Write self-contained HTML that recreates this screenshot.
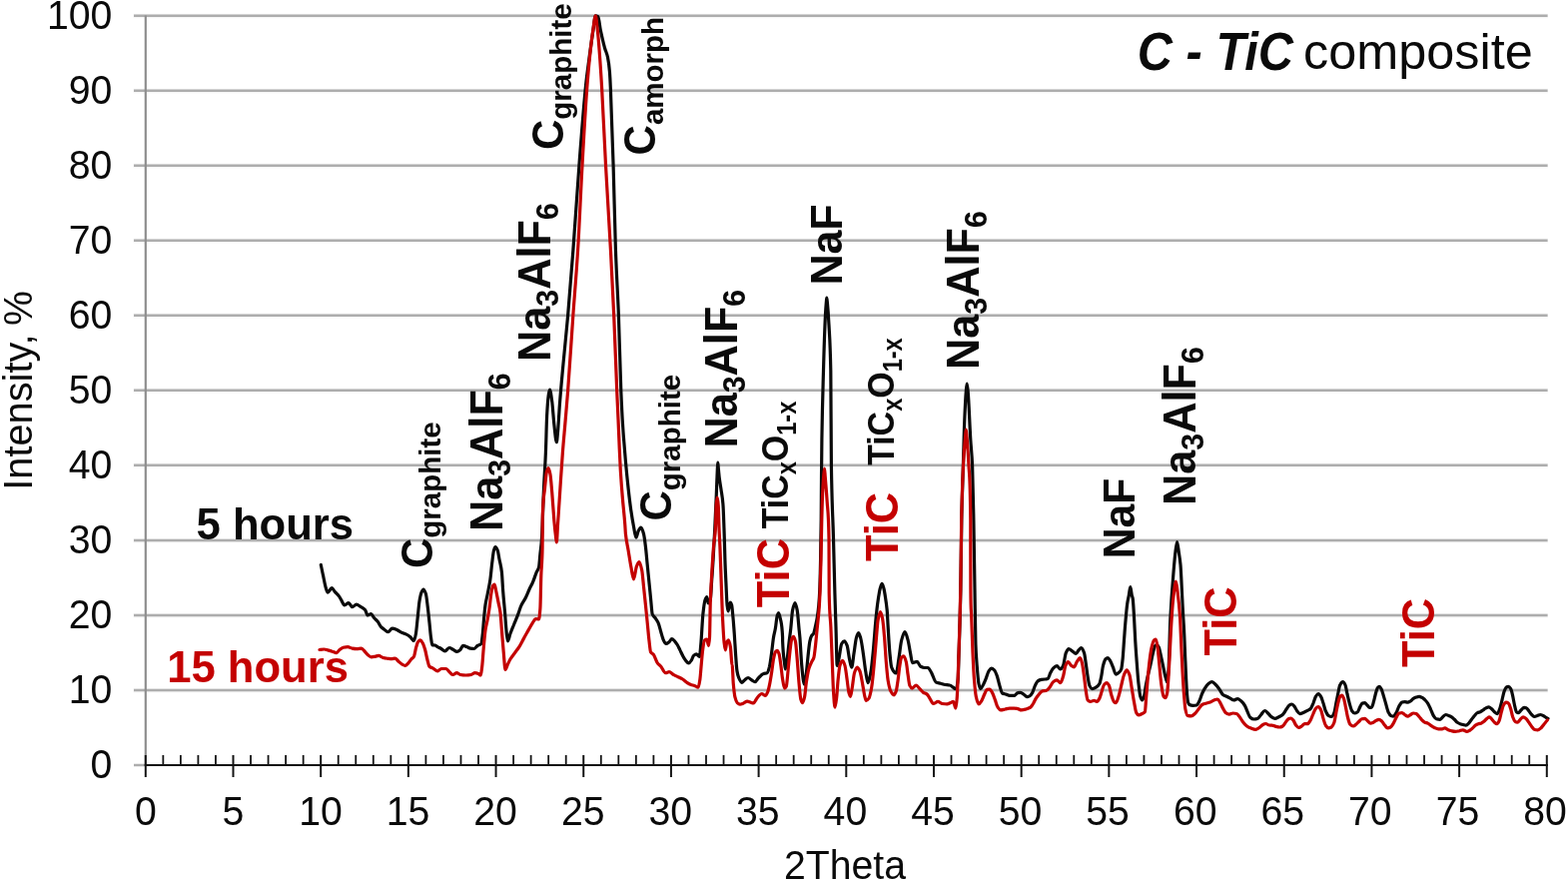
<!DOCTYPE html>
<html lang="en"><head><meta charset="utf-8"><title>XRD pattern of C - TiC composite</title>
<style>html,body{margin:0;padding:0;background:#fff;overflow:hidden}svg{display:block}text{font-family:"Liberation Sans",Arial,Helvetica,sans-serif;fill:#0a0a0a}.b{font-weight:bold}.r,.r text{fill:#c40000}.i{font-style:italic}</style></head><body>
<svg width="1570" height="880" viewBox="0 0 1570 880">
<rect width="1570" height="880" fill="#fff"/>
<g stroke="#000" stroke-opacity="0.035" stroke-width="4.6" fill="none">
<line x1="133.5" y1="691.26" x2="1550.10" y2="691.26"/>
<line x1="133.5" y1="616.23" x2="1550.10" y2="616.23"/>
<line x1="133.5" y1="541.19" x2="1550.10" y2="541.19"/>
<line x1="133.5" y1="466.16" x2="1550.10" y2="466.16"/>
<line x1="133.5" y1="391.12" x2="1550.10" y2="391.12"/>
<line x1="133.5" y1="316.09" x2="1550.10" y2="316.09"/>
<line x1="133.5" y1="241.06" x2="1550.10" y2="241.06"/>
<line x1="133.5" y1="166.02" x2="1550.10" y2="166.02"/>
<line x1="133.5" y1="90.98" x2="1550.10" y2="90.98"/>
<line x1="133.5" y1="15.95" x2="1550.10" y2="15.95"/>
</g>
<g stroke="#adadad" stroke-width="2.5" fill="none">
<line x1="134" y1="690.97" x2="1549.60" y2="690.97"/>
<line x1="134" y1="615.93" x2="1549.60" y2="615.93"/>
<line x1="134" y1="540.89" x2="1549.60" y2="540.89"/>
<line x1="134" y1="465.86" x2="1549.60" y2="465.86"/>
<line x1="134" y1="390.82" x2="1549.60" y2="390.82"/>
<line x1="134" y1="315.79" x2="1549.60" y2="315.79"/>
<line x1="134" y1="240.75" x2="1549.60" y2="240.75"/>
<line x1="134" y1="165.72" x2="1549.60" y2="165.72"/>
<line x1="134" y1="90.68" x2="1549.60" y2="90.68"/>
<line x1="134" y1="15.65" x2="1549.60" y2="15.65"/>
<line x1="134" y1="766.00" x2="145.80" y2="766.00"/>
<line x1="145.80" y1="15.45" x2="145.80" y2="766.00" stroke="#8e8e8e" stroke-width="2.2"/>
</g>
<g stroke="#141414" stroke-width="2" fill="none">
<line x1="144.70" y1="766.00" x2="1549.90" y2="766.00"/>
<line x1="145.80" y1="756.00" x2="145.80" y2="778.00"/>
<line x1="163.34" y1="756.00" x2="163.34" y2="766.00" stroke-width="1.8"/>
<line x1="180.88" y1="756.00" x2="180.88" y2="766.00" stroke-width="1.8"/>
<line x1="198.41" y1="756.00" x2="198.41" y2="766.00" stroke-width="1.8"/>
<line x1="215.95" y1="756.00" x2="215.95" y2="766.00" stroke-width="1.8"/>
<line x1="233.49" y1="756.00" x2="233.49" y2="778.00"/>
<line x1="251.03" y1="756.00" x2="251.03" y2="766.00" stroke-width="1.8"/>
<line x1="268.56" y1="756.00" x2="268.56" y2="766.00" stroke-width="1.8"/>
<line x1="286.10" y1="756.00" x2="286.10" y2="766.00" stroke-width="1.8"/>
<line x1="303.64" y1="756.00" x2="303.64" y2="766.00" stroke-width="1.8"/>
<line x1="321.18" y1="756.00" x2="321.18" y2="778.00"/>
<line x1="338.71" y1="756.00" x2="338.71" y2="766.00" stroke-width="1.8"/>
<line x1="356.25" y1="756.00" x2="356.25" y2="766.00" stroke-width="1.8"/>
<line x1="373.79" y1="756.00" x2="373.79" y2="766.00" stroke-width="1.8"/>
<line x1="391.33" y1="756.00" x2="391.33" y2="766.00" stroke-width="1.8"/>
<line x1="408.86" y1="756.00" x2="408.86" y2="778.00"/>
<line x1="426.40" y1="756.00" x2="426.40" y2="766.00" stroke-width="1.8"/>
<line x1="443.94" y1="756.00" x2="443.94" y2="766.00" stroke-width="1.8"/>
<line x1="461.48" y1="756.00" x2="461.48" y2="766.00" stroke-width="1.8"/>
<line x1="479.01" y1="756.00" x2="479.01" y2="766.00" stroke-width="1.8"/>
<line x1="496.55" y1="756.00" x2="496.55" y2="778.00"/>
<line x1="514.09" y1="756.00" x2="514.09" y2="766.00" stroke-width="1.8"/>
<line x1="531.62" y1="756.00" x2="531.62" y2="766.00" stroke-width="1.8"/>
<line x1="549.16" y1="756.00" x2="549.16" y2="766.00" stroke-width="1.8"/>
<line x1="566.70" y1="756.00" x2="566.70" y2="766.00" stroke-width="1.8"/>
<line x1="584.24" y1="756.00" x2="584.24" y2="778.00"/>
<line x1="601.78" y1="756.00" x2="601.78" y2="766.00" stroke-width="1.8"/>
<line x1="619.31" y1="756.00" x2="619.31" y2="766.00" stroke-width="1.8"/>
<line x1="636.85" y1="756.00" x2="636.85" y2="766.00" stroke-width="1.8"/>
<line x1="654.39" y1="756.00" x2="654.39" y2="766.00" stroke-width="1.8"/>
<line x1="671.92" y1="756.00" x2="671.92" y2="778.00"/>
<line x1="689.46" y1="756.00" x2="689.46" y2="766.00" stroke-width="1.8"/>
<line x1="707.00" y1="756.00" x2="707.00" y2="766.00" stroke-width="1.8"/>
<line x1="724.54" y1="756.00" x2="724.54" y2="766.00" stroke-width="1.8"/>
<line x1="742.08" y1="756.00" x2="742.08" y2="766.00" stroke-width="1.8"/>
<line x1="759.61" y1="756.00" x2="759.61" y2="778.00"/>
<line x1="777.15" y1="756.00" x2="777.15" y2="766.00" stroke-width="1.8"/>
<line x1="794.69" y1="756.00" x2="794.69" y2="766.00" stroke-width="1.8"/>
<line x1="812.22" y1="756.00" x2="812.22" y2="766.00" stroke-width="1.8"/>
<line x1="829.76" y1="756.00" x2="829.76" y2="766.00" stroke-width="1.8"/>
<line x1="847.30" y1="756.00" x2="847.30" y2="778.00"/>
<line x1="864.84" y1="756.00" x2="864.84" y2="766.00" stroke-width="1.8"/>
<line x1="882.38" y1="756.00" x2="882.38" y2="766.00" stroke-width="1.8"/>
<line x1="899.91" y1="756.00" x2="899.91" y2="766.00" stroke-width="1.8"/>
<line x1="917.45" y1="756.00" x2="917.45" y2="766.00" stroke-width="1.8"/>
<line x1="934.99" y1="756.00" x2="934.99" y2="778.00"/>
<line x1="952.53" y1="756.00" x2="952.53" y2="766.00" stroke-width="1.8"/>
<line x1="970.06" y1="756.00" x2="970.06" y2="766.00" stroke-width="1.8"/>
<line x1="987.60" y1="756.00" x2="987.60" y2="766.00" stroke-width="1.8"/>
<line x1="1005.14" y1="756.00" x2="1005.14" y2="766.00" stroke-width="1.8"/>
<line x1="1022.67" y1="756.00" x2="1022.67" y2="778.00"/>
<line x1="1040.21" y1="756.00" x2="1040.21" y2="766.00" stroke-width="1.8"/>
<line x1="1057.75" y1="756.00" x2="1057.75" y2="766.00" stroke-width="1.8"/>
<line x1="1075.29" y1="756.00" x2="1075.29" y2="766.00" stroke-width="1.8"/>
<line x1="1092.83" y1="756.00" x2="1092.83" y2="766.00" stroke-width="1.8"/>
<line x1="1110.36" y1="756.00" x2="1110.36" y2="778.00"/>
<line x1="1127.90" y1="756.00" x2="1127.90" y2="766.00" stroke-width="1.8"/>
<line x1="1145.44" y1="756.00" x2="1145.44" y2="766.00" stroke-width="1.8"/>
<line x1="1162.97" y1="756.00" x2="1162.97" y2="766.00" stroke-width="1.8"/>
<line x1="1180.51" y1="756.00" x2="1180.51" y2="766.00" stroke-width="1.8"/>
<line x1="1198.05" y1="756.00" x2="1198.05" y2="778.00"/>
<line x1="1215.59" y1="756.00" x2="1215.59" y2="766.00" stroke-width="1.8"/>
<line x1="1233.12" y1="756.00" x2="1233.12" y2="766.00" stroke-width="1.8"/>
<line x1="1250.66" y1="756.00" x2="1250.66" y2="766.00" stroke-width="1.8"/>
<line x1="1268.20" y1="756.00" x2="1268.20" y2="766.00" stroke-width="1.8"/>
<line x1="1285.74" y1="756.00" x2="1285.74" y2="778.00"/>
<line x1="1303.27" y1="756.00" x2="1303.27" y2="766.00" stroke-width="1.8"/>
<line x1="1320.81" y1="756.00" x2="1320.81" y2="766.00" stroke-width="1.8"/>
<line x1="1338.35" y1="756.00" x2="1338.35" y2="766.00" stroke-width="1.8"/>
<line x1="1355.89" y1="756.00" x2="1355.89" y2="766.00" stroke-width="1.8"/>
<line x1="1373.42" y1="756.00" x2="1373.42" y2="778.00"/>
<line x1="1390.96" y1="756.00" x2="1390.96" y2="766.00" stroke-width="1.8"/>
<line x1="1408.50" y1="756.00" x2="1408.50" y2="766.00" stroke-width="1.8"/>
<line x1="1426.04" y1="756.00" x2="1426.04" y2="766.00" stroke-width="1.8"/>
<line x1="1443.58" y1="756.00" x2="1443.58" y2="766.00" stroke-width="1.8"/>
<line x1="1461.11" y1="756.00" x2="1461.11" y2="778.00"/>
<line x1="1478.65" y1="756.00" x2="1478.65" y2="766.00" stroke-width="1.8"/>
<line x1="1496.19" y1="756.00" x2="1496.19" y2="766.00" stroke-width="1.8"/>
<line x1="1513.72" y1="756.00" x2="1513.72" y2="766.00" stroke-width="1.8"/>
<line x1="1531.26" y1="756.00" x2="1531.26" y2="766.00" stroke-width="1.8"/>
<line x1="1548.80" y1="756.00" x2="1548.80" y2="778.00"/>
</g>
<g font-size="39.2" text-anchor="end">
<text transform="translate(112.3,779.4) scale(1,1.04)">0</text>
<text transform="translate(112.3,704.37) scale(1,1.04)">10</text>
<text transform="translate(112.3,629.33) scale(1,1.04)">20</text>
<text transform="translate(112.3,554.29) scale(1,1.04)">30</text>
<text transform="translate(112.3,479.26) scale(1,1.04)">40</text>
<text transform="translate(112.3,404.22) scale(1,1.04)">50</text>
<text transform="translate(112.3,329.19) scale(1,1.04)">60</text>
<text transform="translate(112.3,254.16) scale(1,1.04)">70</text>
<text transform="translate(112.3,179.12) scale(1,1.04)">80</text>
<text transform="translate(112.3,104.08) scale(1,1.04)">90</text>
<text transform="translate(112.3,29.05) scale(1,1.04)">100</text>
</g>
<g font-size="39.2" text-anchor="middle">
<text transform="translate(145.8,825.5) scale(1,1.04)">0</text>
<text transform="translate(233.38,825.5) scale(1,1.04)">5</text>
<text transform="translate(320.95,825.5) scale(1,1.04)">10</text>
<text transform="translate(408.53,825.5) scale(1,1.04)">15</text>
<text transform="translate(496.1,825.5) scale(1,1.04)">20</text>
<text transform="translate(583.67,825.5) scale(1,1.04)">25</text>
<text transform="translate(671.25,825.5) scale(1,1.04)">30</text>
<text transform="translate(758.82,825.5) scale(1,1.04)">35</text>
<text transform="translate(846.4,825.5) scale(1,1.04)">40</text>
<text transform="translate(933.97,825.5) scale(1,1.04)">45</text>
<text transform="translate(1021.55,825.5) scale(1,1.04)">50</text>
<text transform="translate(1109.12,825.5) scale(1,1.04)">55</text>
<text transform="translate(1196.7,825.5) scale(1,1.04)">60</text>
<text transform="translate(1284.27,825.5) scale(1,1.04)">65</text>
<text transform="translate(1371.85,825.5) scale(1,1.04)">70</text>
<text transform="translate(1459.42,825.5) scale(1,1.04)">75</text>
<text transform="translate(1547.0,825.5) scale(1,1.04)">80</text>
</g>
<text transform="translate(846,880.2) scale(1,1.04)" font-size="39.2" text-anchor="middle">2Theta</text>
<g font-size="39.8" transform="translate(31.6,490.8) rotate(-90) scale(1,1.02)"><text>Intensity,</text><text x="164.7" font-size="39.2">%</text></g>
<text transform="translate(1138.8,69.8) scale(1,1.09)" font-size="48.8" class="b i">C - TiC</text>
<text transform="translate(1305,69.3)" font-size="50.4">composite</text>
<text transform="translate(196.6,539.8)" font-size="43.6" class="b">5 hours</text>
<text transform="translate(167.2,682.6)" font-size="43.6" class="b r">15 hours</text>
<g class="b" transform="translate(432.8,569) rotate(-90)">
<text font-size="42" transform="scale(1,1.05)">C</text>
<text font-size="29.5" transform="translate(30.33,8.3) scale(1,1.02)">graphite</text>
</g>
<g class="b" transform="translate(502.8,532.1) rotate(-90)">
<text font-size="43.3" transform="scale(1,1.05)">Na</text>
<text font-size="30.3" transform="translate(55.35,7.8) scale(1,1.02)">3</text>
<text font-size="43.3" transform="translate(72.20,0) scale(1,1.05)">AlF</text>
<text font-size="30.3" transform="translate(141.95,7.8) scale(1,1.02)">6</text>
</g>
<g class="b" transform="translate(551.2,362) rotate(-90)">
<text font-size="43.3" transform="scale(1,1.05)">Na</text>
<text font-size="30.3" transform="translate(55.35,7.8) scale(1,1.02)">3</text>
<text font-size="43.3" transform="translate(72.20,0) scale(1,1.05)">AlF</text>
<text font-size="30.3" transform="translate(141.95,7.8) scale(1,1.02)">6</text>
</g>
<g class="b" transform="translate(564,150) rotate(-90)">
<text font-size="42" transform="scale(1,1.05)">C</text>
<text font-size="29.5" transform="translate(30.33,8.3) scale(1,1.02)">graphite</text>
</g>
<g class="b" transform="translate(655.5,155.4) rotate(-90)">
<text font-size="42" transform="scale(1,1.05)">C</text>
<text font-size="29.5" transform="translate(30.33,8.3) scale(1,1.02)">amorph</text>
</g>
<g class="b" transform="translate(672.3,521.5) rotate(-90)">
<text font-size="42" transform="scale(1,1.05)">C</text>
<text font-size="29.5" transform="translate(30.33,8.3) scale(1,1.02)">graphite</text>
</g>
<g class="b" transform="translate(737.7,448.6) rotate(-90)">
<text font-size="43.3" transform="scale(1,1.05)">Na</text>
<text font-size="30.3" transform="translate(55.35,7.8) scale(1,1.02)">3</text>
<text font-size="43.3" transform="translate(72.20,0) scale(1,1.05)">AlF</text>
<text font-size="30.3" transform="translate(141.95,7.8) scale(1,1.02)">6</text>
</g>
<g class="b r" transform="translate(790,608.2) rotate(-90)">
<text font-size="43.5" transform="scale(1,1.05)">TiC</text>
</g>
<g class="b" transform="translate(788.9,529.4) rotate(-90)">
<text font-size="34" transform="scale(1,1.107)">TiC</text>
<text font-size="23.5" transform="translate(54.15,7.6) scale(1,1.15)">x</text>
<text font-size="34" transform="translate(67.22,0) scale(1,1.107)">O</text>
<text font-size="23.5" transform="translate(93.67,7.6) scale(1,1.15)">1-x</text>
</g>
<g class="b" transform="translate(842.5,285.6) rotate(-90)">
<text font-size="43.0" transform="scale(1,1.03)">NaF</text>
</g>
<g class="b r" transform="translate(898.6,562) rotate(-90)">
<text font-size="43.5" transform="scale(1,1.05)">TiC</text>
</g>
<g class="b" transform="translate(895,466) rotate(-90)">
<text font-size="34" transform="scale(1,1.107)">TiC</text>
<text font-size="23.5" transform="translate(54.15,7.6) scale(1,1.15)">x</text>
<text font-size="34" transform="translate(67.22,0) scale(1,1.107)">O</text>
<text font-size="23.5" transform="translate(93.67,7.6) scale(1,1.15)">1-x</text>
</g>
<g class="b" transform="translate(980,370) rotate(-90)">
<text font-size="43.3" transform="scale(1,1.05)">Na</text>
<text font-size="30.3" transform="translate(55.35,7.8) scale(1,1.02)">3</text>
<text font-size="43.3" transform="translate(72.20,0) scale(1,1.05)">AlF</text>
<text font-size="30.3" transform="translate(141.95,7.8) scale(1,1.02)">6</text>
</g>
<g class="b" transform="translate(1135.8,559.2) rotate(-90)">
<text font-size="42.7" transform="scale(1,1.03)">NaF</text>
</g>
<g class="b" transform="translate(1197,506) rotate(-90)">
<text font-size="43.3" transform="scale(1,1.05)">Na</text>
<text font-size="30.3" transform="translate(55.35,7.8) scale(1,1.02)">3</text>
<text font-size="43.3" transform="translate(72.20,0) scale(1,1.05)">AlF</text>
<text font-size="30.3" transform="translate(141.95,7.8) scale(1,1.02)">6</text>
</g>
<g class="b r" transform="translate(1237.5,656.6) rotate(-90)">
<text font-size="43.5" transform="scale(1,1.05)">TiC</text>
</g>
<g class="b r" transform="translate(1436.3,668.1) rotate(-90)">
<text font-size="43.5" transform="scale(1,1.05)">TiC</text>
</g>
<path d="M321.3,565.5C322.1,569.1 322.8,572.8 323.6,576.4C324.5,580.7 325.5,586.4 326.4,589.1C327.0,590.8 327.6,593.1 328.2,593.1C329.5,593.1 330.9,588.7 332.2,588.7C333.3,588.7 334.4,591.5 335.5,592.7C336.7,594.0 337.9,594.9 339.1,596.4C340.0,597.6 340.9,599.4 341.8,600.9C342.8,602.6 343.9,605.8 344.9,605.8C346.3,605.8 347.7,603.6 349.1,603.6C350.3,603.6 351.5,607.6 352.7,607.6C354.1,607.6 355.5,605.1 356.9,605.1C358.2,605.1 359.6,606.5 360.9,607.3C362.4,608.2 364.0,608.8 365.5,610.5C366.4,611.5 367.3,616.0 368.2,616.0C369.3,616.0 370.4,614.5 371.5,614.5C372.5,614.5 373.5,617.4 374.5,618.5C375.7,619.9 377.0,620.7 378.2,622.2C379.2,623.5 380.3,626.1 381.3,627.3C382.4,628.5 383.4,629.2 384.5,630.0C385.8,631.0 387.2,632.7 388.5,632.7C389.9,632.7 391.3,629.1 392.7,629.1C394.2,629.1 395.8,629.8 397.3,630.4C398.8,631.0 400.3,632.4 401.8,633.1C403.3,633.8 404.9,634.2 406.4,634.9C407.9,635.6 409.4,636.6 410.9,637.8C412.1,638.8 413.3,641.5 414.5,641.5C415.1,641.5 415.8,637.8 416.4,634.5C417.0,631.3 417.6,623.6 418.2,618.2C418.8,612.8 419.4,605.4 420.0,601.8C420.6,598.2 421.2,595.1 421.8,593.6C422.5,591.8 423.3,590.0 424.0,590.0C424.8,590.0 425.6,592.1 426.4,594.5C427.0,596.3 427.6,602.5 428.2,607.3C428.8,612.1 429.4,618.0 430.0,623.6C430.5,628.3 431.0,634.7 431.5,638.2C432.0,641.4 432.4,645.7 432.9,645.8C433.8,645.9 434.6,645.9 435.5,646.0C436.4,646.1 437.3,647.1 438.2,647.6C439.4,648.3 440.6,648.8 441.8,649.5C443.0,650.2 444.3,651.8 445.5,651.8C447.0,651.8 448.5,648.5 450.0,648.5C451.2,648.5 452.4,649.6 453.6,650.2C454.9,650.9 456.3,652.4 457.6,652.4C458.7,652.4 459.8,651.4 460.9,650.5C461.8,649.7 462.7,646.4 463.6,646.4C464.8,646.4 466.1,647.1 467.3,647.6C468.5,648.0 469.7,648.9 470.9,649.1C472.1,649.3 473.3,649.5 474.5,649.5C475.7,649.5 477.0,647.2 478.2,646.4C479.4,645.6 480.6,645.8 481.8,644.5C482.3,643.9 482.8,638.8 483.3,634.5C483.7,631.0 484.1,624.3 484.5,620.0C485.0,614.6 485.5,608.9 486.0,605.5C486.7,600.6 487.5,598.3 488.2,594.5C489.1,589.8 490.0,586.2 490.9,580.0C491.5,575.9 492.1,568.4 492.7,563.6C493.3,558.8 493.9,552.9 494.5,550.9C495.0,549.2 495.5,547.6 496.0,547.6C496.7,547.6 497.5,549.2 498.2,550.9C498.8,552.3 499.4,556.9 500.0,560.0C500.8,564.1 501.6,566.1 502.4,572.7C502.8,576.0 503.2,585.6 503.6,590.9C504.2,599.3 504.9,605.2 505.5,612.7C506.1,619.8 506.7,629.7 507.3,634.5C507.7,637.7 508.1,641.8 508.5,641.8C509.3,641.8 510.1,636.7 510.9,634.5C512.1,631.2 513.3,628.5 514.5,625.5C515.7,622.4 517.0,619.6 518.2,616.4C519.4,613.3 520.6,609.0 521.8,606.4C523.3,603.0 524.9,601.3 526.4,598.2C527.6,595.8 528.8,592.6 530.0,590.0C531.2,587.4 532.4,585.5 533.6,582.7C534.8,579.8 536.1,575.5 537.3,572.7C538.0,571.0 538.8,570.8 539.5,568.2C540.0,566.5 540.4,559.0 540.9,554.5C541.4,549.6 541.9,546.7 542.4,540.0C543.1,530.6 543.8,504.1 544.5,489.1C545.1,475.6 545.8,467.8 546.4,452.7C546.8,443.2 547.2,423.9 547.6,416.4C548.1,407.0 548.6,399.8 549.1,396.4C549.6,393.2 550.0,390.0 550.5,390.0C551.2,390.0 552.0,396.5 552.7,401.8C553.4,407.1 554.2,419.2 554.9,425.5C555.7,432.4 556.5,442.7 557.3,442.7C557.7,442.7 558.1,436.9 558.5,432.7C558.8,429.5 559.1,424.3 559.4,420.0C559.8,414.7 560.1,408.5 560.5,403.7C561.7,387.9 562.9,375.9 564.1,362.8C565.6,346.5 567.1,333.0 568.6,316.0C570.4,296.0 572.1,273.3 573.9,250.0C575.9,223.6 577.9,191.5 579.9,165.5C582.1,136.5 584.4,105.9 586.6,85.0C587.7,74.4 588.9,66.5 590.0,58.0C591.3,48.5 592.5,39.2 593.8,31.0C594.6,25.6 595.5,15.9 596.3,15.9C597.1,15.9 598.0,16.2 598.8,16.6C599.7,17.1 600.5,26.5 601.4,30.7C602.8,37.2 604.1,43.2 605.5,48.0C606.5,51.5 607.5,52.8 608.5,57.3C609.1,60.2 609.8,64.5 610.4,71.6C610.7,75.3 611.1,82.8 611.4,90.0C612.3,109.4 613.2,136.8 614.1,165.5C614.9,189.9 615.6,228.7 616.4,250.0C617.4,277.8 618.4,290.0 619.4,316.0C620.2,336.8 621.0,372.0 621.8,391.4C622.3,402.7 622.7,412.2 623.2,420.0C623.7,427.8 624.1,433.9 624.6,440.0C625.2,447.9 625.8,455.2 626.4,461.8C627.3,471.8 628.2,480.9 629.1,489.0C630.0,497.1 630.9,504.8 631.8,511.0C632.7,517.2 633.6,522.6 634.5,527.3C635.3,531.4 636.1,538.2 636.9,538.2C637.6,538.2 638.4,533.2 639.1,531.8C640.0,530.1 640.9,528.2 641.8,528.2C642.7,528.2 643.6,531.3 644.5,534.5C645.1,536.8 645.8,542.2 646.4,547.3C647.0,552.2 647.6,559.5 648.2,565.5C648.8,571.5 649.4,577.6 650.0,583.6C650.6,589.6 651.2,595.8 651.8,601.8C652.2,606.1 652.7,613.3 653.1,614.5C654.2,617.5 655.3,617.4 656.4,619.1C657.3,620.5 658.2,621.6 659.1,623.6C660.0,625.6 660.9,629.7 661.8,632.7C662.5,635.2 663.3,638.4 664.0,640.0C665.0,642.1 665.9,644.5 666.9,644.5C667.9,644.5 669.0,643.5 670.0,642.7C670.9,642.0 671.8,639.6 672.7,639.6C673.6,639.6 674.6,640.9 675.5,641.8C676.4,642.7 677.3,644.0 678.2,645.5C679.1,647.0 680.0,649.1 680.9,650.9C681.8,652.7 682.7,654.8 683.6,656.4C684.5,658.1 685.5,659.8 686.4,660.9C687.5,662.2 688.5,664.0 689.6,664.0C690.5,664.0 691.5,662.3 692.4,660.9C693.1,659.9 693.8,657.0 694.5,656.4C695.4,655.6 696.4,654.9 697.3,654.9C698.3,654.9 699.4,657.3 700.4,657.3C700.9,657.3 701.3,650.0 701.8,645.0C702.5,637.5 703.2,621.1 703.9,614.6C704.6,608.4 705.2,603.0 705.9,601.0C706.5,599.2 707.1,597.5 707.7,597.5C708.2,597.5 708.7,604.0 709.2,604.0C709.9,604.0 710.6,602.5 711.3,600.0C711.8,598.4 712.2,587.2 712.7,580.5C713.2,573.8 713.6,567.7 714.1,560.0C714.6,551.3 715.2,540.8 715.7,530.0C716.2,519.2 716.8,507.5 717.3,495.0C717.6,487.2 718.0,475.8 718.3,470.0C718.5,467.1 718.6,463.0 718.8,463.0C719.0,463.0 719.2,467.8 719.4,470.0C719.7,472.9 719.9,475.8 720.2,478.0C720.8,482.9 721.4,485.7 722.0,490.0C722.6,494.5 723.3,497.0 723.9,504.6C724.4,510.2 724.8,524.9 725.3,538.7C725.5,544.6 725.7,554.3 725.9,560.0C726.3,571.4 726.7,578.9 727.1,587.3C727.4,593.6 727.7,602.1 728.0,605.0C728.4,608.5 728.7,611.8 729.1,611.8C729.8,611.8 730.5,603.0 731.2,603.0C731.6,603.0 732.1,603.9 732.5,605.0C733.0,606.2 733.4,612.5 733.9,617.3C734.4,622.1 734.8,628.4 735.3,635.0C735.7,641.1 736.2,649.7 736.6,655.5C737.1,661.8 737.5,669.1 738.0,671.9C738.5,675.1 739.1,676.9 739.6,678.2C740.6,680.7 741.7,683.3 742.7,683.3C743.6,683.3 744.6,681.6 745.5,680.9C746.7,680.0 747.9,678.5 749.1,678.5C750.3,678.5 751.5,680.2 752.7,680.9C753.8,681.6 754.9,682.7 756.0,682.7C757.0,682.7 758.1,680.2 759.1,679.1C760.0,678.1 760.9,677.1 761.8,676.4C762.7,675.7 763.6,674.8 764.5,674.5C765.7,674.0 767.0,674.2 768.2,673.6C769.0,673.2 769.7,670.3 770.5,667.3C771.2,664.4 772.0,658.1 772.7,652.7C773.3,648.3 773.9,641.8 774.5,638.2C775.1,634.4 775.8,632.7 776.4,629.1C777.0,625.7 777.6,618.2 778.2,616.4C778.7,615.0 779.1,613.6 779.6,613.6C780.2,613.6 780.9,616.9 781.5,620.0C782.2,623.4 782.9,623.8 783.6,638.2C783.6,638.5 783.6,641.4 783.6,641.8C784.3,658.0 784.9,658.3 785.5,663.6C785.8,666.2 786.1,670.0 786.4,670.0C787.0,670.0 787.6,664.1 788.2,660.0C788.8,655.9 789.4,648.7 790.0,643.6C790.6,638.5 791.2,634.5 791.8,629.1C792.4,623.7 793.0,613.8 793.6,610.9C794.4,607.1 795.2,603.6 796.0,603.6C796.7,603.6 797.5,607.2 798.2,610.9C798.8,613.9 799.4,623.0 800.0,629.1C800.3,632.1 800.6,634.6 800.9,638.2C801.5,645.3 802.1,658.7 802.7,665.5C803.3,672.3 803.9,679.0 804.5,681.8C804.8,683.3 805.2,685.1 805.5,685.1C806.1,685.1 806.7,679.0 807.3,674.5C807.9,670.0 808.5,661.8 809.1,656.4C809.7,651.0 810.3,644.4 810.9,641.8C811.5,639.2 812.1,637.3 812.7,636.4C813.3,635.5 813.9,635.5 814.5,634.5C815.1,633.5 815.8,630.0 816.4,627.3C817.0,624.6 817.7,621.9 818.3,618.0C818.8,614.9 819.3,611.5 819.8,606.0C820.1,602.4 820.5,597.6 820.8,590.0C821.1,583.9 821.3,573.0 821.6,560.0C821.8,550.3 822.0,538.5 822.2,520.0C822.3,510.8 822.4,491.5 822.5,480.0C822.6,464.7 822.8,448.7 822.9,440.0C823.4,405.1 824.0,389.5 824.5,371.0C825.1,349.0 825.8,328.4 826.4,316.4C826.7,310.7 827.0,306.4 827.3,303.0C827.5,301.1 827.6,298.2 827.8,298.2C828.0,298.2 828.2,301.0 828.4,303.0C828.9,308.2 829.5,315.9 830.0,325.5C830.6,336.3 831.2,341.2 831.8,371.0C832.0,380.9 832.2,453.1 832.4,466.0C833.1,511.3 833.8,513.1 834.5,539.0C835.0,556.3 835.4,577.9 835.9,594.0C836.3,606.6 836.6,616.5 837.0,628.0C837.4,640.6 837.8,666.4 838.2,666.4C838.8,666.4 839.4,661.9 840.0,659.1C840.9,655.0 841.8,646.0 842.7,644.5C843.6,643.0 844.6,641.8 845.5,641.8C846.4,641.8 847.3,644.0 848.2,646.4C848.9,648.4 849.7,655.7 850.4,659.1C851.2,662.7 851.9,668.2 852.7,668.2C853.5,668.2 854.3,658.7 855.1,653.6C855.8,649.0 856.6,641.8 857.3,639.1C858.0,636.4 858.8,633.6 859.5,633.6C860.3,633.6 861.0,636.5 861.8,639.1C862.7,642.2 863.6,649.5 864.5,655.5C865.2,660.4 866.0,667.5 866.7,671.8C867.5,676.5 868.3,683.6 869.1,683.6C870.0,683.6 870.9,678.3 871.8,673.6C872.7,668.9 873.6,659.3 874.5,650.0C875.1,643.4 875.8,633.5 876.4,626.4C876.9,620.4 877.5,614.6 878.0,610.0C878.5,605.4 879.1,601.3 879.6,598.0C880.2,594.5 880.7,591.0 881.3,589.0C881.9,586.9 882.5,584.4 883.1,584.4C883.7,584.4 884.3,586.9 884.9,589.0C885.4,590.9 886.0,594.5 886.5,598.0C887.1,601.7 887.6,604.8 888.2,611.0C888.5,614.3 888.8,621.6 889.1,626.4C889.7,636.1 890.3,647.3 890.9,653.6C891.5,659.9 892.1,666.7 892.7,668.2C894.2,671.9 895.8,674.0 897.3,674.0C898.2,674.0 899.1,664.6 900.0,659.1C900.9,653.6 901.8,644.2 902.7,640.9C903.8,636.8 904.9,632.7 906.0,632.7C907.0,632.7 908.1,637.2 909.1,640.9C909.9,643.8 910.7,649.6 911.5,653.6C912.2,657.1 912.9,663.6 913.6,663.6C915.1,663.6 916.7,662.4 918.2,662.4C919.4,662.4 920.6,666.7 921.8,667.3C923.0,667.9 924.3,668.5 925.5,668.5C926.7,668.5 927.9,668.5 929.1,668.5C930.3,668.5 931.5,671.6 932.7,673.6C934.2,676.2 935.8,682.4 937.3,683.1C938.8,683.8 940.3,683.8 941.8,684.2C943.3,684.6 944.9,685.3 946.4,685.5C947.9,685.7 949.4,685.7 950.9,686.0C952.1,686.2 953.3,687.4 954.5,688.2C955.1,688.6 955.8,689.6 956.4,689.6C956.8,689.6 957.1,689.3 957.5,689.0C958.1,688.5 958.6,685.5 959.2,680.0C959.5,677.1 959.8,662.6 960.1,653.6C960.4,644.6 960.7,636.4 961.0,626.0C961.3,615.6 961.6,605.8 961.9,590.0C962.2,574.2 962.5,535.8 962.8,521.0C963.3,494.8 963.9,483.9 964.4,466.0C964.9,450.3 965.3,431.1 965.8,420.0C966.3,408.1 966.8,397.8 967.3,392.0C967.6,388.5 967.9,384.0 968.2,384.0C968.5,384.0 968.9,388.5 969.2,392.0C970.1,401.1 970.9,426.1 971.8,440.0C972.4,449.7 973.0,452.7 973.6,466.0C974.0,475.6 974.5,499.0 974.9,521.0C975.3,539.6 975.6,567.4 976.0,590.0C976.3,608.5 976.6,636.3 976.9,644.5C977.3,656.3 977.8,660.9 978.2,666.4C978.8,674.1 979.4,681.8 980.0,684.5C980.6,687.2 981.2,689.6 981.8,689.6C982.7,689.6 983.6,687.1 984.5,685.5C985.4,683.8 986.4,681.4 987.3,679.1C988.2,676.9 989.1,673.1 990.0,671.8C990.9,670.5 991.8,669.1 992.7,669.1C993.6,669.1 994.6,670.0 995.5,670.9C996.4,671.8 997.3,674.0 998.2,676.4C999.1,678.8 1000.0,683.5 1000.9,686.4C1001.8,689.3 1002.7,693.5 1003.6,694.0C1004.8,694.7 1006.1,694.7 1007.3,695.1C1008.8,695.5 1010.3,696.4 1011.8,696.4C1013.0,696.4 1014.3,696.4 1015.5,696.4C1016.7,696.4 1017.9,693.8 1019.1,693.6C1020.0,693.4 1020.9,693.3 1021.8,693.3C1023.0,693.3 1024.3,694.7 1025.5,695.5C1026.4,696.1 1027.3,697.6 1028.2,697.6C1029.1,697.6 1030.0,697.3 1030.9,696.9C1031.8,696.5 1032.7,695.1 1033.6,693.6C1034.5,692.1 1035.5,688.3 1036.4,686.4C1037.3,684.6 1038.2,682.4 1039.1,681.8C1040.3,681.0 1041.5,680.6 1042.7,680.4C1043.9,680.2 1045.2,680.0 1046.4,680.0C1046.4,680.0 1046.4,680.0 1046.5,680.0C1047.3,680.0 1048.2,679.8 1049.1,679.5C1050.0,679.2 1050.9,675.3 1051.8,673.6C1052.7,671.9 1053.6,670.0 1054.5,669.1C1055.7,667.9 1057.0,666.7 1058.2,666.7C1059.4,666.7 1060.6,670.0 1061.8,670.0C1062.7,670.0 1063.6,668.3 1064.5,666.4C1065.4,664.5 1066.4,655.7 1067.3,653.6C1068.2,651.6 1069.1,649.6 1070.0,649.6C1071.2,649.6 1072.4,651.0 1073.6,651.8C1074.8,652.6 1076.1,654.5 1077.3,654.5C1078.2,654.5 1079.1,651.9 1080.0,650.9C1080.9,649.9 1081.8,648.5 1082.7,648.5C1083.6,648.5 1084.6,650.9 1085.5,653.6C1086.1,655.3 1086.7,660.6 1087.3,664.5C1087.9,668.4 1088.5,673.8 1089.1,677.3C1089.7,680.8 1090.3,685.2 1090.9,686.4C1091.8,688.2 1092.7,689.6 1093.6,689.6C1094.8,689.6 1096.1,688.9 1097.3,688.2C1098.5,687.5 1099.7,686.6 1100.9,684.5C1101.5,683.4 1102.1,680.2 1102.7,677.3C1103.3,674.4 1103.9,668.7 1104.5,666.4C1105.3,663.4 1106.1,660.8 1106.9,660.0C1107.6,659.3 1108.4,658.7 1109.1,658.7C1110.0,658.7 1110.9,660.4 1111.8,661.8C1112.7,663.2 1113.6,666.0 1114.5,668.2C1115.4,670.5 1116.4,675.1 1117.3,675.1C1118.2,675.1 1119.1,674.3 1120.0,673.6C1120.9,672.9 1121.8,672.2 1122.7,670.0C1123.2,668.8 1123.7,663.9 1124.2,659.1C1124.6,654.9 1125.1,646.7 1125.5,640.9C1126.0,634.6 1126.4,628.0 1126.9,622.7C1127.5,615.8 1128.1,608.7 1128.7,604.5C1129.2,600.8 1129.8,598.9 1130.3,596.0C1130.8,593.3 1131.3,587.6 1131.8,587.6C1132.3,587.6 1132.8,593.9 1133.3,596.0C1133.6,597.3 1133.9,597.5 1134.2,599.1C1134.6,601.4 1135.1,610.2 1135.5,617.3C1135.9,623.9 1136.3,634.2 1136.7,640.9C1137.2,649.3 1137.7,656.1 1138.2,662.7C1138.8,670.6 1139.4,679.1 1140.0,684.5C1140.6,689.9 1141.2,695.4 1141.8,697.3C1142.4,699.2 1143.0,700.9 1143.6,700.9C1144.2,700.9 1144.9,699.1 1145.5,697.3C1146.1,695.6 1146.7,689.7 1147.3,686.4C1147.9,683.1 1148.5,680.0 1149.1,677.3C1150.0,673.2 1150.9,670.3 1151.8,666.4C1152.7,662.5 1153.6,657.1 1154.5,653.6C1155.2,650.8 1156.0,647.0 1156.7,646.4C1157.3,645.9 1157.9,645.5 1158.5,645.5C1159.1,645.5 1159.8,646.9 1160.4,648.2C1161.0,649.5 1161.6,652.9 1162.2,655.5C1163.0,658.8 1163.7,662.8 1164.5,666.4C1165.4,670.7 1166.4,676.1 1167.3,679.1C1167.8,680.6 1168.2,682.7 1168.7,682.7C1169.1,682.7 1169.6,677.3 1170.0,671.8C1170.6,664.2 1171.2,632.1 1171.8,620.0C1172.8,600.5 1173.7,588.8 1174.7,576.8C1175.5,567.3 1176.2,557.7 1177.0,552.0C1177.5,548.0 1178.1,542.7 1178.6,542.7C1179.1,542.7 1179.7,548.5 1180.2,552.0C1180.8,555.9 1181.4,559.0 1182.0,565.5C1182.6,571.8 1183.2,588.7 1183.8,599.5C1184.1,606.6 1184.5,613.4 1184.9,620.0C1185.1,623.4 1185.3,626.2 1185.5,630.0C1186.0,638.9 1186.4,652.4 1186.9,662.7C1187.3,672.3 1187.8,684.2 1188.2,690.0C1188.6,695.8 1189.1,701.2 1189.5,702.7C1190.0,704.3 1190.4,705.3 1190.9,705.5C1192.1,706.1 1193.3,706.4 1194.5,706.4C1195.7,706.4 1197.0,706.3 1198.2,706.0C1199.1,705.8 1200.0,703.6 1200.9,701.8C1201.8,700.0 1202.7,696.5 1203.6,694.5C1204.5,692.4 1205.5,690.5 1206.4,689.1C1207.6,687.2 1208.8,685.4 1210.0,684.5C1211.2,683.6 1212.4,682.7 1213.6,682.7C1214.8,682.7 1216.1,684.3 1217.3,685.5C1218.5,686.6 1219.7,688.3 1220.9,690.0C1222.1,691.6 1223.3,694.6 1224.5,695.5C1225.7,696.4 1227.0,696.7 1228.2,697.3C1229.4,697.9 1230.6,698.5 1231.8,699.1C1233.0,699.7 1234.3,700.9 1235.5,700.9C1236.7,700.9 1237.9,699.6 1239.1,699.6C1240.3,699.6 1241.5,700.8 1242.7,701.8C1243.9,702.8 1245.2,704.4 1246.4,706.4C1247.3,707.9 1248.2,710.7 1249.1,712.7C1250.0,714.7 1250.9,717.5 1251.8,718.2C1253.0,719.2 1254.3,720.0 1255.5,720.0C1256.7,720.0 1257.9,719.8 1259.1,719.5C1260.3,719.2 1261.5,716.8 1262.7,715.5C1263.9,714.1 1265.2,711.5 1266.4,711.5C1267.6,711.5 1268.8,713.4 1270.0,714.5C1271.0,715.4 1271.9,716.8 1272.9,717.5C1274.2,718.4 1275.4,719.4 1276.7,719.4C1278.0,719.4 1279.2,718.4 1280.5,717.8C1281.8,717.2 1283.0,716.6 1284.3,715.5C1285.6,714.4 1286.9,711.6 1288.2,709.8C1289.1,708.5 1290.1,706.6 1291.0,706.0C1291.8,705.5 1292.5,705.0 1293.3,705.0C1294.1,705.0 1295.0,706.0 1295.8,706.9C1296.8,707.9 1297.7,710.5 1298.7,711.7C1299.6,712.9 1300.6,714.6 1301.5,714.6C1302.8,714.6 1304.1,713.8 1305.4,713.3C1306.7,712.8 1307.9,712.0 1309.2,711.3C1310.1,710.8 1311.1,710.6 1312.0,709.8C1313.0,709.0 1313.9,706.3 1314.9,704.1C1315.7,702.2 1316.6,698.7 1317.4,697.4C1318.3,696.0 1319.2,694.5 1320.1,694.5C1320.9,694.5 1321.8,696.0 1322.6,697.4C1323.4,698.7 1324.2,701.7 1325.0,704.1C1325.8,706.4 1326.5,710.0 1327.3,711.7C1328.3,713.9 1329.2,715.9 1330.2,716.5C1331.2,717.1 1332.1,717.5 1333.1,717.5C1334.0,717.5 1335.0,715.7 1335.9,713.6C1336.5,712.2 1337.2,707.3 1337.8,704.1C1338.4,700.9 1339.1,697.4 1339.7,694.5C1340.4,691.4 1341.0,687.1 1341.7,685.9C1342.6,684.2 1343.6,682.7 1344.5,682.7C1345.3,682.7 1346.2,684.2 1347.0,685.9C1347.6,687.2 1348.3,691.7 1348.9,694.5C1349.7,697.8 1350.4,701.4 1351.2,704.1C1352.0,707.0 1352.9,710.6 1353.7,711.7C1354.6,712.9 1355.5,714.0 1356.4,714.0C1357.4,714.0 1358.4,713.4 1359.4,712.7C1360.2,712.1 1360.9,709.3 1361.7,707.9C1362.5,706.5 1363.2,704.3 1364.0,704.1C1364.8,703.9 1365.7,703.7 1366.5,703.7C1367.3,703.7 1368.2,705.2 1369.0,706.0C1369.8,706.7 1370.5,708.3 1371.3,708.3C1372.1,708.3 1372.8,708.2 1373.6,707.9C1374.2,707.7 1374.9,704.4 1375.5,702.2C1376.1,700.0 1376.8,696.7 1377.4,694.5C1378.0,692.3 1378.7,689.6 1379.3,688.8C1379.9,688.0 1380.6,687.3 1381.2,687.3C1381.8,687.3 1382.5,688.6 1383.1,689.7C1383.7,690.8 1384.4,693.5 1385.0,695.5C1385.8,698.2 1386.7,701.2 1387.5,704.1C1388.3,707.0 1389.2,711.0 1390.0,712.7C1390.9,714.5 1391.8,716.1 1392.7,716.5C1393.5,716.8 1394.4,717.1 1395.2,717.1C1396.1,717.1 1397.1,715.1 1398.0,713.6C1399.0,712.0 1399.9,708.5 1400.9,706.9C1401.9,705.3 1402.8,703.4 1403.8,703.1C1404.7,702.8 1405.7,702.6 1406.6,702.6C1407.6,702.6 1408.5,703.1 1409.5,703.1C1410.5,703.1 1411.4,702.4 1412.4,701.8C1413.3,701.2 1414.3,699.9 1415.2,699.3C1416.2,698.7 1417.1,698.3 1418.1,698.0C1419.1,697.7 1420.0,697.4 1421.0,697.4C1421.9,697.4 1422.9,697.9 1423.8,698.3C1424.8,698.7 1425.7,699.7 1426.7,700.6C1427.7,701.5 1428.6,702.6 1429.6,704.1C1430.5,705.5 1431.5,707.8 1432.4,709.8C1433.4,711.9 1434.3,715.0 1435.3,716.5C1436.3,718.0 1437.2,719.6 1438.2,719.8C1439.5,720.1 1440.7,720.3 1442.0,720.3C1443.0,720.3 1443.9,718.3 1444.9,717.5C1445.8,716.7 1446.8,715.5 1447.7,715.5C1448.7,715.5 1449.6,716.1 1450.6,716.5C1451.6,716.9 1452.5,717.2 1453.5,717.8C1454.4,718.4 1455.4,719.4 1456.3,720.3C1457.3,721.2 1458.2,722.5 1459.2,723.2C1460.2,723.9 1461.1,724.3 1462.1,724.7C1463.0,725.0 1464.0,725.3 1464.9,725.5C1465.9,725.7 1466.8,726.1 1467.8,726.1C1468.7,726.1 1469.7,725.0 1470.6,724.1C1471.6,723.2 1472.5,721.6 1473.5,720.3C1474.5,719.0 1475.4,717.6 1476.4,716.5C1477.3,715.4 1478.3,714.0 1479.2,713.6C1480.2,713.1 1481.1,713.1 1482.1,712.7C1483.1,712.3 1484.0,711.4 1485.0,710.8C1485.9,710.2 1486.9,709.3 1487.8,708.9C1488.8,708.5 1489.7,707.9 1490.7,707.9C1491.7,707.9 1492.6,709.0 1493.6,709.8C1494.5,710.6 1495.5,711.9 1496.4,712.7C1497.4,713.5 1498.3,714.6 1499.3,714.6C1500.1,714.6 1500.8,711.9 1501.6,709.8C1502.4,707.6 1503.3,703.6 1504.1,700.3C1504.7,697.8 1505.4,694.4 1506.0,692.6C1506.6,690.8 1507.3,688.9 1507.9,688.4C1508.7,687.8 1509.6,687.3 1510.4,687.3C1511.2,687.3 1511.9,688.4 1512.7,689.7C1513.3,690.7 1514.0,693.8 1514.6,696.4C1515.2,699.0 1515.9,703.4 1516.5,706.0C1517.1,708.6 1517.8,712.2 1518.4,712.7C1519.0,713.2 1519.7,713.6 1520.3,713.6C1521.3,713.6 1522.2,711.7 1523.2,710.8C1524.2,709.9 1525.1,708.3 1526.1,708.3C1526.9,708.3 1527.6,708.6 1528.4,708.9C1529.2,709.2 1530.0,710.7 1530.8,711.7C1531.8,712.9 1532.7,714.6 1533.7,715.5C1534.7,716.4 1535.6,717.5 1536.6,717.5C1537.5,717.5 1538.5,716.8 1539.4,716.5C1540.4,716.2 1541.3,715.5 1542.3,715.5C1543.3,715.5 1544.2,716.1 1545.2,716.5C1546.1,716.9 1547.1,717.9 1548.0,718.4C1548.7,718.8 1549.3,719.1 1550.0,719.4" fill="none" stroke="#0a0a0a" stroke-width="3.2" stroke-linejoin="round" stroke-linecap="round"/>
<path d="M320.0,650.5C321.5,650.3 323.0,650.0 324.5,650.0C325.7,650.0 327.0,650.6 328.2,650.9C329.7,651.3 331.2,651.7 332.7,652.2C334.1,652.6 335.5,653.6 336.9,653.6C337.9,653.6 339.0,651.3 340.0,650.5C341.2,649.6 342.4,648.5 343.6,648.2C345.1,647.9 346.7,647.6 348.2,647.6C349.7,647.6 351.2,648.9 352.7,649.1C354.2,649.4 355.8,649.6 357.3,649.6C358.8,649.6 360.3,649.1 361.8,649.1C362.7,649.1 363.6,650.5 364.5,651.3C365.7,652.5 367.0,654.5 368.2,655.5C369.4,656.5 370.6,657.8 371.8,657.8C373.0,657.8 374.3,657.5 375.5,657.3C376.7,657.1 377.9,656.4 379.1,656.4C380.6,656.4 382.1,658.1 383.6,658.5C385.1,658.9 386.7,659.1 388.2,659.3C389.4,659.4 390.6,659.6 391.8,659.6C393.0,659.6 394.3,659.1 395.5,659.1C396.7,659.1 397.9,661.2 399.1,662.2C400.3,663.2 401.5,664.4 402.7,665.1C403.6,665.6 404.6,666.4 405.5,666.4C406.7,666.4 407.9,664.8 409.1,663.6C410.0,662.7 410.9,661.0 411.8,660.0C412.7,659.0 413.6,658.8 414.5,657.3C415.1,656.2 415.8,651.4 416.4,649.1C417.1,646.6 417.8,643.6 418.5,642.7C419.3,641.7 420.1,640.9 420.9,640.9C421.6,640.9 422.4,642.4 423.1,643.6C423.9,644.9 424.7,647.4 425.5,650.0C426.3,652.5 427.0,657.1 427.8,660.0C428.5,662.8 429.3,666.6 430.0,667.3C431.2,668.4 432.4,668.5 433.6,669.1C435.1,669.9 436.7,671.8 438.2,671.8C439.4,671.8 440.6,669.5 441.8,669.5C443.3,669.5 444.9,669.5 446.4,669.5C447.6,669.5 448.8,671.7 450.0,672.7C451.2,673.7 452.4,675.5 453.6,675.5C454.8,675.5 456.1,673.6 457.3,673.6C458.5,673.6 459.7,675.3 460.9,675.5C462.7,675.8 464.6,676.0 466.4,676.0C468.2,676.0 470.0,675.8 471.8,675.5C473.0,675.3 474.3,673.6 475.5,673.6C476.7,673.6 477.9,674.0 479.1,674.5C479.8,674.8 480.6,676.0 481.3,676.0C481.8,676.0 482.2,671.1 482.7,667.3C483.2,663.2 483.7,654.6 484.2,649.1C484.8,642.5 485.4,634.9 486.0,630.9C486.7,626.0 487.5,624.0 488.2,620.0C488.8,616.7 489.4,613.3 490.0,609.1C490.6,604.9 491.2,598.0 491.8,594.5C492.4,591.0 493.0,587.3 493.6,586.4C494.1,585.7 494.6,585.1 495.1,585.1C495.7,585.1 496.3,590.0 496.9,592.7C497.6,596.0 498.4,599.9 499.1,603.6C499.7,606.6 500.3,608.4 500.9,612.7C501.4,616.3 501.9,624.8 502.4,630.9C503.0,638.2 503.6,646.2 504.2,652.7C504.8,659.2 505.4,670.5 506.0,670.5C506.7,670.5 507.5,667.1 508.2,665.5C509.1,663.6 510.0,661.5 510.9,660.0C512.4,657.4 514.0,655.7 515.5,653.6C517.0,651.5 518.5,649.7 520.0,647.3C521.5,644.9 523.0,641.8 524.5,639.1C526.0,636.3 527.6,633.6 529.1,630.9C530.5,628.4 531.9,625.7 533.3,623.6C534.3,622.1 535.4,619.6 536.4,619.6C537.4,619.6 538.5,620.0 539.5,620.0C540.0,620.0 540.4,615.4 540.9,609.1C541.2,605.1 541.5,584.8 541.8,576.4C542.2,564.2 542.7,568.0 543.1,547.3C543.2,544.1 543.2,518.4 543.3,516.4C544.0,494.3 544.8,496.8 545.5,489.1C546.1,482.8 546.7,474.8 547.3,472.7C547.9,470.6 548.5,468.7 549.1,468.7C549.7,468.7 550.3,471.6 550.9,474.5C551.5,477.4 552.1,485.9 552.7,492.7C553.4,501.1 554.2,513.7 554.9,521.8C555.4,527.4 555.9,532.3 556.4,536.4C556.7,538.9 557.0,543.0 557.3,543.0C557.7,543.0 558.1,531.4 558.5,525.5C559.3,513.6 560.1,500.9 560.9,489.0C561.7,476.6 562.6,463.5 563.4,452.7C564.3,440.6 565.3,431.0 566.2,420.0C567.0,410.6 567.8,401.7 568.6,391.4C570.3,369.0 572.1,340.5 573.8,316.0C575.4,293.4 577.0,275.7 578.6,250.0C580.1,226.4 581.5,191.5 583.0,165.5C584.5,138.3 586.1,110.4 587.6,90.0C588.5,78.4 589.3,68.5 590.2,60.0C591.4,48.3 592.6,38.0 593.8,30.0C594.6,24.5 595.5,15.9 596.3,15.9C597.0,15.9 597.6,24.1 598.3,30.0C599.1,37.3 600.0,48.6 600.8,60.0C601.4,68.7 602.1,79.0 602.7,90.0C604.0,112.0 605.2,142.0 606.5,165.5C608.1,195.7 609.8,219.6 611.4,250.0C612.5,270.5 613.6,291.5 614.7,316.0C615.7,338.3 616.7,368.1 617.7,391.4C618.1,401.5 618.6,410.1 619.0,420.0C619.3,427.6 619.7,436.2 620.0,443.6C620.4,453.3 620.9,463.8 621.3,471.0C622.0,482.1 622.6,489.9 623.3,498.0C624.1,508.1 625.0,514.6 625.8,525.5C626.0,528.1 626.2,532.6 626.4,534.5C627.3,543.1 628.2,545.4 629.1,550.9C630.0,556.4 630.9,562.5 631.8,567.3C632.7,572.1 633.6,580.0 634.5,580.0C635.4,580.0 636.4,569.6 637.3,567.3C638.2,565.1 639.1,562.7 640.0,562.7C640.9,562.7 641.8,566.7 642.7,570.9C643.3,573.7 643.9,581.7 644.5,587.3C645.1,593.2 645.8,599.3 646.4,605.5C647.0,611.4 647.6,617.6 648.2,623.6C648.8,629.6 649.4,636.8 650.0,641.8C650.5,646.0 651.0,651.8 651.5,652.7C652.5,654.5 653.5,654.2 654.5,655.5C655.7,657.1 657.0,661.9 658.2,663.6C659.4,665.3 660.6,665.9 661.8,667.3C663.3,669.1 664.9,673.6 666.4,673.6C667.6,673.6 668.8,672.7 670.0,672.7C671.5,672.7 673.0,674.7 674.5,675.5C676.0,676.4 677.6,677.0 679.1,677.8C680.6,678.5 682.1,679.1 683.6,680.0C685.1,680.9 686.7,682.6 688.2,683.6C689.4,684.4 690.6,685.1 691.8,685.5C693.0,685.9 694.3,686.0 695.5,686.4C696.7,686.8 697.9,688.2 699.1,688.2C699.7,688.2 700.3,684.0 700.9,680.0C701.3,677.1 701.8,670.2 702.2,665.5C702.7,660.5 703.1,654.2 703.6,650.9C704.2,646.4 704.9,641.4 705.5,640.9C706.2,640.3 706.9,640.0 707.6,640.0C708.3,640.0 708.9,646.4 709.6,646.4C709.9,646.4 710.2,642.8 710.5,638.2C710.8,634.1 711.0,609.4 711.3,601.8C711.8,588.6 712.2,582.5 712.7,574.5C713.3,564.2 713.9,554.3 714.5,547.3C715.1,539.9 715.8,538.9 716.4,529.1C716.7,525.0 716.9,509.3 717.2,506.0C717.5,501.8 717.9,498.2 718.2,498.2C718.5,498.2 718.9,501.8 719.2,506.0C719.5,509.3 719.7,522.7 720.0,529.1C720.3,536.3 720.6,540.3 720.9,547.3C721.3,557.4 721.8,571.9 722.2,583.6C722.7,596.2 723.1,610.8 723.6,620.0C724.1,629.8 724.6,639.5 725.1,643.6C725.5,647.1 726.0,650.9 726.4,650.9C726.8,650.9 727.2,644.6 727.6,643.6C728.2,642.1 728.9,640.9 729.5,640.9C730.1,640.9 730.7,644.1 731.3,647.3C731.9,650.5 732.5,665.5 733.1,665.5C733.1,665.5 733.1,665.5 733.1,665.5C733.5,665.5 733.9,679.6 734.2,683.6C734.8,690.4 735.4,695.9 736.0,698.2C736.7,701.0 737.5,702.9 738.2,703.6C739.1,704.4 740.0,705.1 740.9,705.1C742.1,705.1 743.3,704.4 744.5,704.0C745.7,703.5 747.0,702.2 748.2,702.2C749.4,702.2 750.6,703.0 751.8,703.3C752.7,703.6 753.6,704.0 754.5,704.0C755.4,704.0 756.4,701.3 757.3,700.0C758.2,698.8 759.1,697.2 760.0,696.4C760.9,695.6 761.8,694.5 762.7,694.5C763.9,694.5 765.2,696.4 766.4,696.4C767.2,696.4 767.9,694.5 768.7,692.7C769.4,691.0 770.2,687.2 770.9,683.6C771.5,680.6 772.1,676.6 772.7,672.7C773.3,668.8 773.9,663.0 774.5,660.0C775.1,656.8 775.8,653.5 776.4,652.7C777.0,651.9 777.6,651.3 778.2,651.3C778.8,651.3 779.4,652.8 780.0,654.5C780.6,656.2 781.2,661.3 781.8,665.5C782.4,669.7 783.0,676.4 783.6,680.0C784.2,683.8 784.9,689.1 785.5,689.1C786.1,689.1 786.7,688.4 787.3,687.3C787.9,686.2 788.5,676.7 789.1,670.9C789.7,665.1 790.3,657.7 790.9,652.7C791.5,647.7 792.1,641.5 792.7,640.0C793.3,638.5 793.9,637.3 794.5,637.3C795.1,637.3 795.8,639.4 796.4,641.8C797.0,644.1 797.6,653.1 798.2,660.0C798.8,666.9 799.4,677.1 800.0,683.6C800.6,690.1 801.2,698.0 801.8,700.0C802.4,702.0 803.0,703.6 803.6,703.6C804.2,703.6 804.9,700.9 805.5,698.2C806.1,695.7 806.7,687.5 807.3,683.6C808.2,677.7 809.1,672.1 810.0,669.1C810.9,666.1 811.8,664.7 812.7,662.7C813.4,661.1 814.2,660.6 814.9,658.2C815.4,656.5 815.9,651.5 816.4,647.3C817.0,642.3 817.6,635.1 818.2,629.1C818.8,623.1 819.4,618.8 820.0,611.0C820.4,606.2 820.7,600.6 821.1,592.0C821.4,584.9 821.7,572.5 822.0,560.0C822.3,548.9 822.5,530.3 822.8,520.0C823.1,509.7 823.3,500.9 823.6,495.0C823.9,487.6 824.3,482.2 824.6,478.0C824.9,474.2 825.2,469.0 825.5,469.0C825.8,469.0 826.0,474.8 826.3,478.0C826.9,485.6 827.6,492.7 828.2,502.7C828.8,512.2 829.4,509.7 830.0,539.0C830.1,542.3 830.1,590.8 830.2,594.0C830.8,621.4 831.3,615.4 831.9,628.0C832.4,638.4 832.8,651.3 833.3,662.7C833.7,672.5 834.1,685.7 834.5,691.8C835.0,699.4 835.5,708.2 836.0,708.2C836.5,708.2 837.1,703.2 837.6,699.1C838.1,695.2 838.6,685.8 839.1,680.9C839.7,675.1 840.3,668.3 840.9,666.4C841.8,663.5 842.7,661.3 843.6,661.3C844.4,661.3 845.2,663.8 846.0,666.4C846.7,668.8 847.5,675.9 848.2,680.9C848.8,685.0 849.4,691.4 850.0,693.6C850.5,695.4 851.0,697.3 851.5,697.3C852.1,697.3 852.7,691.6 853.3,688.2C854.0,684.0 854.8,675.9 855.5,673.6C856.4,670.8 857.3,668.2 858.2,668.2C859.1,668.2 860.0,669.9 860.9,671.8C861.8,673.7 862.7,679.8 863.6,684.5C864.2,687.8 864.9,692.9 865.5,695.5C866.1,698.0 866.7,701.3 867.3,701.3C868.2,701.3 869.1,700.3 870.0,699.1C870.9,697.9 871.8,693.3 872.7,688.2C873.5,683.7 874.3,674.6 875.1,666.4C875.8,658.9 876.6,649.2 877.3,640.9C877.9,634.1 878.5,624.1 879.1,620.9C879.9,616.6 880.7,612.7 881.5,612.7C882.2,612.7 882.9,615.8 883.6,619.1C884.2,622.1 884.9,630.1 885.5,637.3C886.1,644.2 886.7,655.6 887.3,662.7C887.9,669.8 888.5,677.3 889.1,680.9C890.0,686.2 890.9,690.1 891.8,691.8C892.9,693.9 894.0,695.8 895.1,695.8C895.8,695.8 896.6,693.9 897.3,691.8C897.9,690.1 898.5,685.0 899.1,680.9C899.7,676.8 900.3,669.9 900.9,666.4C901.5,662.9 902.1,658.8 902.7,658.2C903.4,657.4 904.2,656.9 904.9,656.9C905.7,656.9 906.5,659.7 907.3,662.7C907.9,664.9 908.5,671.6 909.1,675.5C909.7,679.4 910.3,685.2 910.9,686.4C911.7,688.0 912.5,689.1 913.3,689.1C914.6,689.1 916.0,686.0 917.3,686.0C918.5,686.0 919.7,688.4 920.9,689.6C922.1,690.8 923.3,692.5 924.5,693.3C925.7,694.1 927.0,694.2 928.2,695.1C929.1,695.8 930.0,697.8 930.9,699.1C932.1,700.9 933.3,704.5 934.5,704.5C936.0,704.5 937.6,702.4 939.1,702.4C940.6,702.4 942.1,704.3 943.6,704.5C945.1,704.7 946.7,704.9 948.2,704.9C949.4,704.9 950.6,704.1 951.8,703.6C952.7,703.2 953.6,702.4 954.5,702.4C955.3,702.4 956.1,709.1 956.9,709.1C957.3,709.1 957.8,704.1 958.2,699.1C958.5,695.7 958.8,688.2 959.1,680.9C959.4,673.6 959.7,662.7 960.0,653.6C960.3,644.5 960.6,636.8 960.9,626.4C961.2,616.0 961.5,605.9 961.8,590.0C962.1,574.1 962.4,534.8 962.7,521.0C963.3,493.5 963.9,477.6 964.5,466.0C965.2,453.1 965.8,445.6 966.5,438.0C966.8,435.0 967.0,430.0 967.3,430.0C967.6,430.0 967.8,434.9 968.1,438.0C968.7,445.4 969.4,453.4 970.0,466.0C970.6,478.0 971.2,469.6 971.8,521.0C971.8,522.4 971.8,588.5 971.9,590.0C972.1,614.8 972.4,608.8 972.7,617.3C973.1,630.3 973.6,644.0 974.0,653.6C974.5,664.7 975.0,674.8 975.5,680.9C976.1,688.3 976.7,694.6 977.3,697.3C978.2,701.3 979.1,704.9 980.0,704.9C980.9,704.9 981.8,703.2 982.7,701.8C983.6,700.4 984.6,697.4 985.5,695.5C986.4,693.7 987.3,690.6 988.2,690.4C989.1,690.2 990.0,690.0 990.9,690.0C991.8,690.0 992.7,692.0 993.6,693.6C994.5,695.2 995.5,698.4 996.4,700.9C997.3,703.3 998.2,706.9 999.1,708.2C1000.0,709.5 1000.9,710.9 1001.8,710.9C1003.3,710.9 1004.9,710.3 1006.4,710.0C1007.9,709.7 1009.4,709.1 1010.9,709.1C1012.4,709.1 1014.0,709.1 1015.5,709.1C1016.7,709.1 1017.9,709.4 1019.1,709.6C1020.3,709.8 1021.5,710.9 1022.7,710.9C1024.2,710.9 1025.8,710.4 1027.3,710.0C1028.8,709.6 1030.3,709.2 1031.8,708.2C1032.7,707.6 1033.6,705.9 1034.5,704.5C1035.4,703.0 1036.4,700.6 1037.3,699.1C1038.2,697.7 1039.1,696.6 1040.0,695.5C1041.2,694.1 1042.4,692.0 1043.6,691.8C1044.8,691.6 1046.1,691.7 1047.3,691.5C1048.5,691.3 1049.7,689.6 1050.9,688.2C1052.1,686.8 1053.3,683.6 1054.5,682.7C1055.7,681.8 1057.0,680.9 1058.2,680.9C1059.4,680.9 1060.6,683.6 1061.8,683.6C1062.7,683.6 1063.6,680.1 1064.5,677.3C1065.3,674.8 1066.1,668.1 1066.9,666.4C1067.8,664.5 1068.6,662.7 1069.5,662.7C1070.6,662.7 1071.6,665.7 1072.7,666.4C1073.6,667.0 1074.6,667.8 1075.5,667.8C1076.4,667.8 1077.3,664.0 1078.2,662.7C1079.3,661.1 1080.4,658.7 1081.5,658.7C1082.2,658.7 1082.9,661.7 1083.6,664.5C1084.2,667.0 1084.9,672.6 1085.5,677.3C1086.1,681.7 1086.7,688.1 1087.3,691.8C1087.9,695.5 1088.5,700.3 1089.1,700.9C1090.0,701.9 1090.9,702.4 1091.8,702.4C1093.0,702.4 1094.3,701.3 1095.5,701.3C1096.4,701.3 1097.3,702.4 1098.2,702.4C1099.1,702.4 1100.0,700.7 1100.9,699.1C1101.7,697.7 1102.5,694.2 1103.3,691.8C1104.0,689.6 1104.8,686.3 1105.5,685.5C1106.4,684.5 1107.3,683.6 1108.2,683.6C1109.0,683.6 1109.7,685.0 1110.5,686.4C1111.2,687.8 1112.0,693.2 1112.7,695.5C1113.6,698.5 1114.6,702.0 1115.5,702.7C1116.1,703.2 1116.7,703.6 1117.3,703.6C1118.2,703.6 1119.1,700.0 1120.0,697.3C1120.9,694.6 1121.8,690.0 1122.7,686.4C1123.6,682.7 1124.6,677.7 1125.5,675.5C1126.4,673.4 1127.3,670.9 1128.2,670.9C1129.1,670.9 1130.0,673.1 1130.9,675.5C1131.6,677.5 1132.4,683.9 1133.1,688.2C1133.9,692.9 1134.7,698.5 1135.5,702.7C1136.3,706.8 1137.0,712.3 1137.8,713.6C1138.5,714.8 1139.3,715.8 1140.0,715.8C1141.2,715.8 1142.4,715.1 1143.6,714.5C1144.5,714.1 1145.5,714.0 1146.4,712.7C1146.8,712.1 1147.2,703.8 1147.6,699.1C1148.1,693.2 1148.6,686.4 1149.1,680.9C1149.7,674.3 1150.3,667.5 1150.9,662.7C1151.6,656.8 1152.4,651.3 1153.1,648.2C1153.9,644.9 1154.7,641.6 1155.5,640.9C1156.1,640.4 1156.7,640.0 1157.3,640.0C1157.9,640.0 1158.5,644.4 1159.1,648.2C1159.7,652.0 1160.3,660.4 1160.9,666.4C1161.5,672.4 1162.1,680.3 1162.7,684.5C1163.5,690.2 1164.3,696.3 1165.1,697.3C1165.7,698.1 1166.3,698.7 1166.9,698.7C1167.5,698.7 1168.1,696.5 1168.7,693.6C1169.1,691.5 1169.6,683.7 1170.0,677.3C1170.4,670.9 1170.9,661.7 1171.3,653.6C1171.8,644.8 1172.2,634.2 1172.7,626.4C1173.2,618.1 1173.7,610.0 1174.2,604.5C1174.7,599.3 1175.1,595.3 1175.6,592.0C1176.2,588.0 1176.7,582.0 1177.3,582.0C1177.9,582.0 1178.4,587.9 1179.0,592.0C1179.8,598.1 1180.7,605.1 1181.5,617.3C1181.9,623.2 1182.3,635.8 1182.7,644.5C1183.1,654.0 1183.6,664.0 1184.0,671.8C1184.5,680.8 1185.0,689.3 1185.5,695.5C1186.0,701.3 1186.4,707.8 1186.9,710.0C1187.6,713.5 1188.4,716.2 1189.1,716.4C1190.3,716.7 1191.5,716.9 1192.7,716.9C1193.9,716.9 1195.2,715.6 1196.4,714.5C1197.6,713.5 1198.8,711.5 1200.0,710.0C1201.2,708.5 1202.4,706.2 1203.6,705.5C1204.8,704.8 1206.1,704.6 1207.3,704.2C1208.8,703.8 1210.3,703.6 1211.8,703.1C1213.0,702.7 1214.3,701.3 1215.5,700.9C1216.7,700.5 1217.9,700.0 1219.1,700.0C1220.0,700.0 1220.9,702.1 1221.8,703.6C1222.7,705.1 1223.6,707.5 1224.5,709.1C1225.4,710.8 1226.4,713.0 1227.3,713.6C1228.5,714.4 1229.7,715.1 1230.9,715.1C1232.1,715.1 1233.3,714.0 1234.5,714.0C1235.7,714.0 1237.0,714.2 1238.2,714.5C1239.1,714.7 1240.0,716.2 1240.9,717.3C1242.1,718.8 1243.3,721.2 1244.5,722.7C1245.7,724.3 1247.0,725.8 1248.2,726.7C1249.7,727.8 1251.2,728.5 1252.7,729.1C1254.2,729.7 1255.8,730.4 1257.3,730.4C1258.5,730.4 1259.7,729.3 1260.9,728.5C1262.1,727.7 1263.3,726.1 1264.5,725.5C1265.4,725.0 1266.4,724.5 1267.3,724.5C1268.5,724.5 1269.7,725.9 1270.9,726.0C1271.9,726.1 1272.8,726.0 1273.8,726.1C1275.1,726.2 1276.3,727.1 1277.6,727.4C1278.9,727.7 1280.2,728.0 1281.5,728.0C1282.4,728.0 1283.4,727.5 1284.3,727.0C1285.3,726.5 1286.2,724.4 1287.2,723.2C1288.2,722.0 1289.1,720.3 1290.1,719.8C1290.9,719.4 1291.7,719.0 1292.5,719.0C1293.3,719.0 1294.0,720.0 1294.8,720.9C1295.8,722.0 1296.7,725.0 1297.7,726.1C1298.7,727.2 1299.6,728.5 1300.6,728.5C1301.5,728.5 1302.5,727.6 1303.4,727.0C1304.4,726.4 1305.3,724.7 1306.3,724.7C1307.3,724.7 1308.2,724.7 1309.2,724.7C1310.1,724.7 1311.1,722.8 1312.0,721.3C1313.0,719.8 1313.9,716.7 1314.9,714.6C1315.7,712.8 1316.6,710.3 1317.4,709.4C1318.3,708.4 1319.2,707.5 1320.1,707.5C1320.9,707.5 1321.8,709.2 1322.6,710.8C1323.4,712.3 1324.2,716.8 1325.0,719.4C1325.8,721.9 1326.5,725.0 1327.3,726.1C1328.3,727.5 1329.2,728.9 1330.2,728.9C1331.2,728.9 1332.1,728.5 1333.1,728.0C1334.0,727.5 1335.0,725.7 1335.9,723.2C1336.5,721.5 1337.2,716.8 1337.8,713.6C1338.4,710.4 1339.1,706.6 1339.7,704.1C1340.4,701.4 1341.0,698.2 1341.7,697.4C1342.3,696.7 1343.0,696.1 1343.6,696.1C1344.2,696.1 1344.9,697.7 1345.5,699.3C1346.1,700.9 1346.8,704.9 1347.4,707.9C1348.0,710.9 1348.7,715.1 1349.3,717.5C1350.1,720.7 1351.0,724.2 1351.8,725.1C1352.9,726.2 1353.9,727.0 1355.0,727.0C1356.0,727.0 1356.9,725.9 1357.9,725.1C1358.9,724.3 1359.8,723.1 1360.8,722.2C1361.7,721.3 1362.7,720.0 1363.6,719.8C1364.6,719.6 1365.5,719.4 1366.5,719.4C1367.5,719.4 1368.4,720.9 1369.4,721.7C1370.3,722.5 1371.3,724.1 1372.2,724.1C1373.2,724.1 1374.1,723.6 1375.1,723.2C1376.1,722.8 1377.0,721.7 1378.0,721.3C1378.9,720.9 1379.9,720.3 1380.8,720.3C1381.8,720.3 1382.7,721.3 1383.7,722.2C1384.7,723.1 1385.6,725.0 1386.6,726.1C1387.5,727.2 1388.5,728.9 1389.4,728.9C1390.4,728.9 1391.3,728.5 1392.3,728.0C1393.3,727.5 1394.2,725.7 1395.2,724.1C1396.1,722.6 1397.1,720.0 1398.0,718.4C1399.0,716.7 1399.9,714.2 1400.9,714.0C1401.9,713.8 1402.8,713.6 1403.8,713.6C1404.7,713.6 1405.7,714.9 1406.6,715.5C1407.6,716.1 1408.5,717.1 1409.5,717.1C1410.5,717.1 1411.4,716.0 1412.4,715.5C1413.3,715.0 1414.3,714.0 1415.2,714.0C1416.2,714.0 1417.1,714.3 1418.1,714.6C1419.1,714.9 1420.0,716.4 1421.0,717.5C1421.9,718.5 1422.9,720.0 1423.8,720.9C1424.8,721.8 1425.7,722.8 1426.7,723.2C1427.7,723.6 1428.6,723.7 1429.6,724.1C1430.5,724.5 1431.5,725.5 1432.4,726.1C1433.7,727.0 1435.0,727.9 1436.3,728.5C1437.6,729.1 1438.8,729.9 1440.1,729.9C1441.4,729.9 1442.6,729.9 1443.9,729.9C1444.9,729.9 1445.8,728.9 1446.8,728.9C1447.7,728.9 1448.7,730.1 1449.6,730.5C1450.9,731.1 1452.2,731.5 1453.5,731.8C1454.8,732.1 1456.0,732.4 1457.3,732.4C1458.6,732.4 1459.8,732.0 1461.1,731.8C1462.4,731.5 1463.6,730.8 1464.9,730.8C1466.2,730.8 1467.4,732.4 1468.7,732.4C1469.7,732.4 1470.6,731.7 1471.6,731.2C1472.6,730.7 1473.5,729.8 1474.5,728.9C1475.4,728.1 1476.4,726.7 1477.3,726.1C1478.3,725.5 1479.2,725.0 1480.2,724.7C1481.2,724.4 1482.1,724.4 1483.1,724.1C1484.0,723.8 1485.0,722.9 1485.9,722.2C1486.9,721.4 1487.8,720.1 1488.8,719.4C1489.6,718.8 1490.5,717.8 1491.3,717.8C1492.1,717.8 1492.8,719.0 1493.6,719.8C1494.5,720.7 1495.5,722.5 1496.4,723.2C1497.2,723.9 1498.1,724.7 1498.9,724.7C1499.7,724.7 1500.4,723.0 1501.2,721.3C1501.8,719.9 1502.5,715.9 1503.1,713.6C1503.9,710.8 1504.6,707.3 1505.4,706.0C1506.2,704.6 1507.1,703.1 1507.9,703.1C1508.7,703.1 1509.6,703.5 1510.4,704.1C1511.2,704.6 1511.9,707.4 1512.7,709.8C1513.3,711.8 1514.0,715.8 1514.6,717.5C1515.4,719.6 1516.1,721.7 1516.9,722.2C1517.7,722.8 1518.6,723.2 1519.4,723.2C1520.3,723.2 1521.3,721.2 1522.2,720.3C1523.2,719.4 1524.1,717.8 1525.1,717.8C1526.1,717.8 1527.0,718.6 1528.0,719.4C1528.9,720.1 1529.9,721.9 1530.8,723.2C1531.8,724.6 1532.7,726.2 1533.7,727.4C1534.7,728.6 1535.6,730.3 1536.6,730.5C1537.7,730.7 1538.7,730.8 1539.8,730.8C1540.8,730.8 1541.9,729.8 1542.9,728.9C1543.7,728.3 1544.4,727.0 1545.2,726.1C1546.0,725.2 1546.7,724.1 1547.5,723.2C1548.1,722.4 1548.8,721.7 1549.4,720.9" fill="none" stroke="#c40000" stroke-width="3.2" stroke-linejoin="round" stroke-linecap="round"/>
</svg></body></html>
